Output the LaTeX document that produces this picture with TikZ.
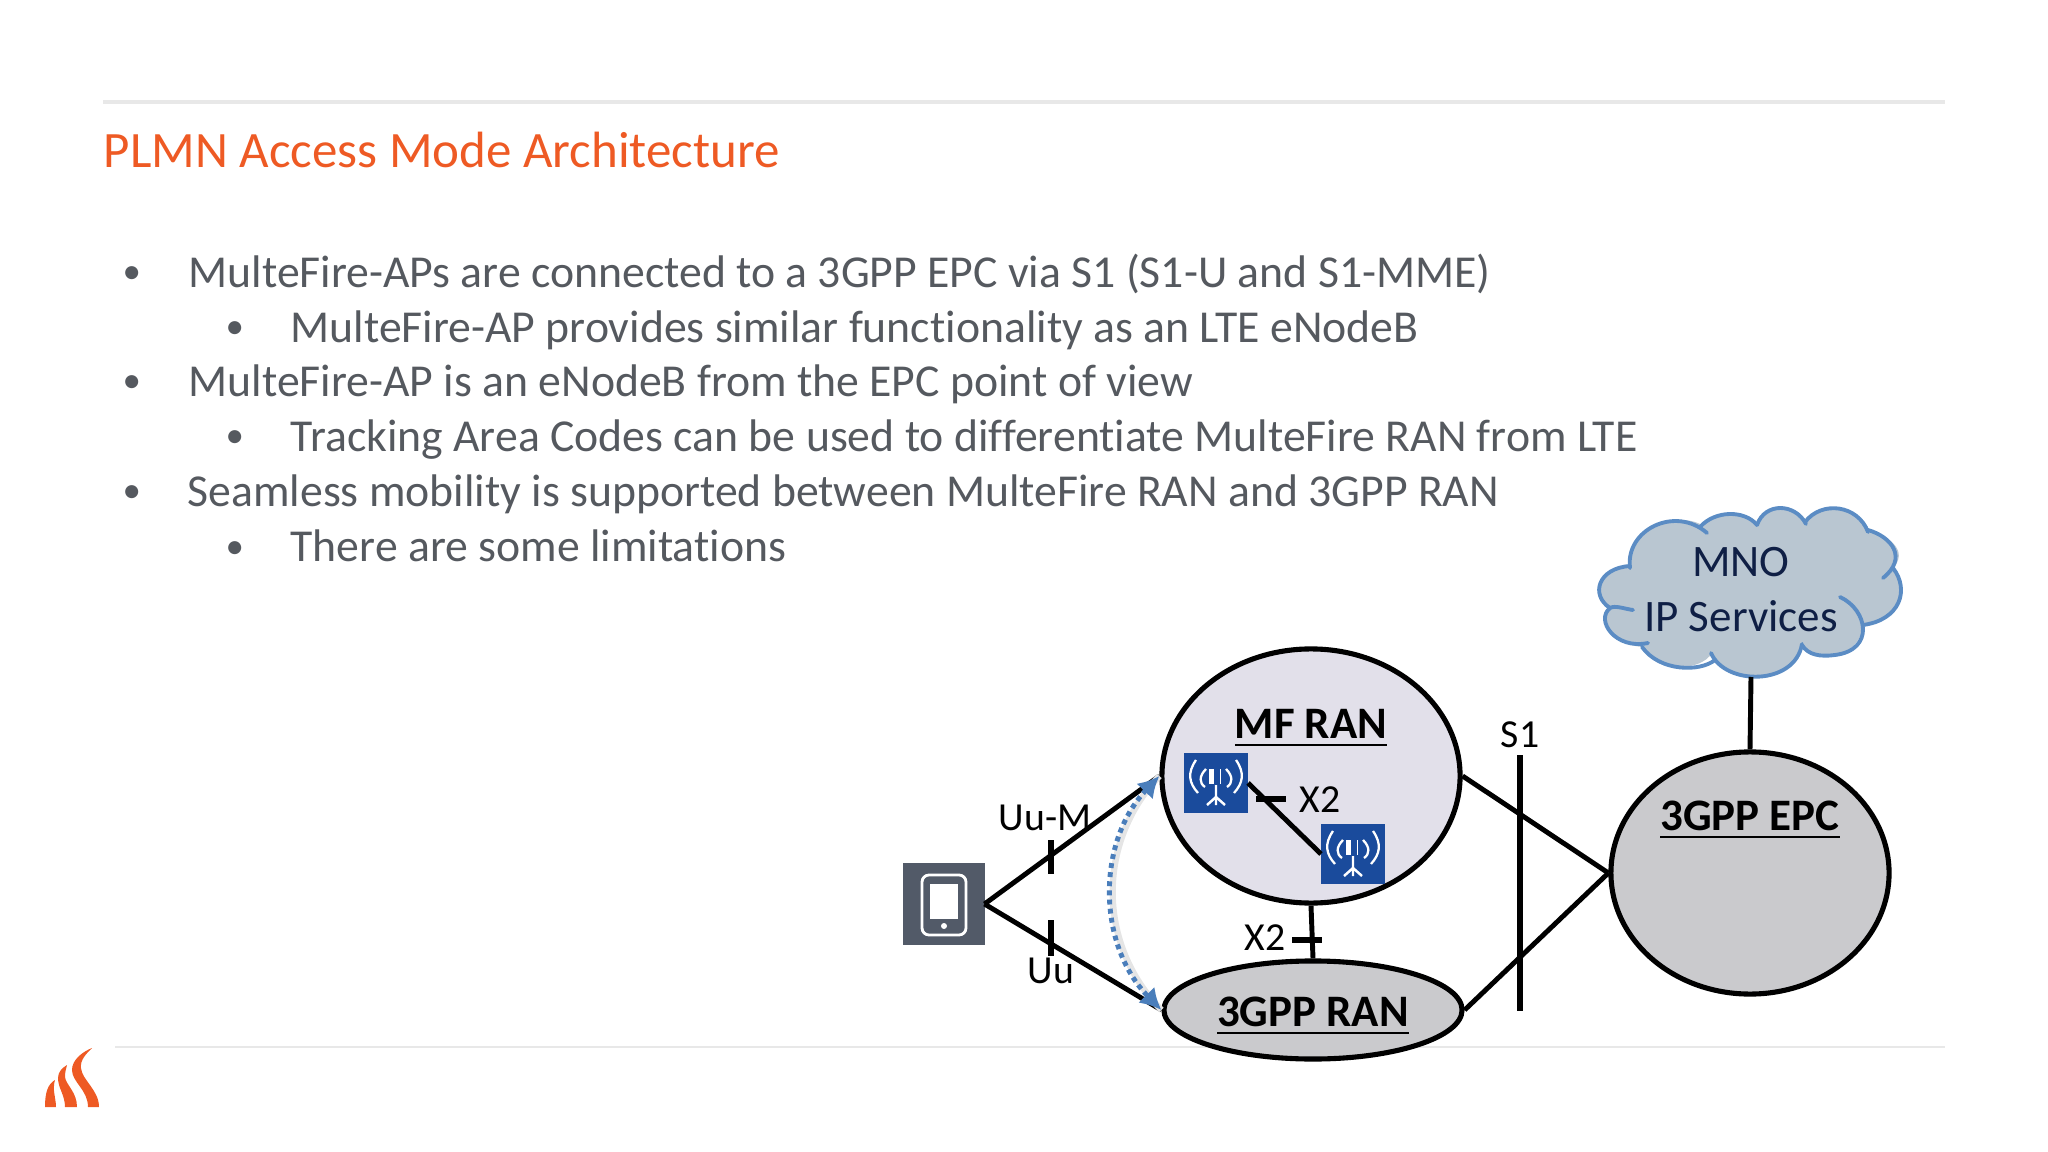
\documentclass[tikz,border=0pt]{standalone}
\usepackage{fontspec}
\setmainfont[Ligatures=NoCommon]{Carlito}
\usetikzlibrary{arrows.meta,positioning,shapes.geometric}

\definecolor{titleorange}{HTML}{EE5A24}
\definecolor{bodygray}{HTML}{55595F}
\definecolor{rulegray}{HTML}{E8E8E8}
\definecolor{phoneslate}{HTML}{525A68}
\definecolor{antblue}{HTML}{1A4B9C}
\definecolor{mffill}{HTML}{E2E0EA}
\definecolor{coregray}{HTML}{CACACD}
\definecolor{cloudfill}{HTML}{B9C6D1}
\definecolor{cloudline}{HTML}{5B8CC4}
\definecolor{cloudtext}{HTML}{0F1F45}
\definecolor{arcblue}{HTML}{4A7EBB}

% heading with a heavier underline
\newsavebox{\ranbox}
\newcommand{\ranhead}[1]{\sbox{\ranbox}{#1}\rlap{\smash{\raisebox{-2.2pt}{\rule{\wd\ranbox}{0.65pt}}}}\usebox{\ranbox}}

\tikzset{
    bullettext/.style={anchor=base west, inner sep=0pt, text=bodygray, font=\fontsize{13}{15}\selectfont},
    bulletdot/.style={anchor=base west, inner sep=0pt, text=bodygray, font=\fontsize{10.5}{12}\selectfont},
    diagtext/.style={inner sep=0pt, font=\fontsize{11.3}{13}\selectfont},
    cloudlabel/.style={inner sep=0pt, text=cloudtext, font=\fontsize{12.8}{15}\selectfont},
    rantitle/.style={inner sep=0pt, font=\fontsize{12.8}{15}\selectfont\bfseries},
    ranlobe/.style={draw, line width=1.45pt, shape=ellipse, inner sep=0pt},
    antbox/.style={fill=antblue, minimum width=0.64cm, minimum height=0.6cm, inner sep=0pt, outer sep=0pt},
    tickv/.style={fill=black, minimum width=1.5pt, inner sep=0pt, outer sep=0pt},
    tickh/.style={fill=black, minimum height=1.6pt, inner sep=0pt, outer sep=0pt},
    wire/.style={line width=1.4pt},
    cloudedge/.style={cloudline, line width=1.1pt, line cap=round},
    antenna/.pic={
        \draw[white, line width=0.65pt] (-20,-23) .. controls (-29,-10) and (-27,0) .. (-18,10);
        \draw[white, line width=0.65pt] (20,-23) .. controls (29,-10) and (27,0) .. (18,10);
        \draw[white, line width=0.65pt] (-10,-14) .. controls (-17,-7) and (-17,0) .. (-11,4);
        \draw[white, line width=0.65pt] (10,-14) .. controls (17,-7) and (17,0) .. (11,4);
        \fill[white] (-7,-14) rectangle (-2,1);
        \fill[white] (4,-14) rectangle (5.2,1);
        \draw[white, line width=0.7pt] (0,2) -- (0,14) -- (-9,22) (0,14) -- (9,22) (0,14) -- (0,22);
    },
}

\begin{document}
\begin{tikzpicture}[
    >=Latex,
    x=0.01cm, y=-0.01cm, % coordinates are pixels of the slide
]
    \useasboundingbox (0,0) rectangle (2048,1152);

    % --- Slide frame ---
    \draw[rulegray, line width=1.3pt] (103,102) -- (1945,102);
    \draw[rulegray, line width=0.5pt] (115,1047) -- (1945,1047);
    \node[anchor=base west, inner sep=0pt, text=titleorange, font=\fontsize{14.5}{17}\selectfont] (title) at (103,168) {PLMN Access Mode Architecture};

    % logo
    \fill[titleorange] (92,1048) .. controls (82,1052) and (72,1060) .. (72,1070) .. controls (72,1082) and (88,1090) .. (88,1107) -- (99,1107) .. controls (99,1090) and (82,1080) .. (81,1068) .. controls (80,1060) and (86,1054) .. (92,1048) -- cycle;
    \fill[titleorange] (67,1065) .. controls (62,1068) and (58,1072) .. (58,1078) .. controls (58,1088) and (65,1095) .. (65,1107) -- (77,1107) .. controls (77,1092) and (66,1085) .. (65,1077) .. controls (65,1072) and (66,1069) .. (67,1065) -- cycle;
    \fill[titleorange] (55,1080) .. controls (48,1084) and (45,1092) .. (45,1107) -- (56,1107) .. controls (56,1098) and (52,1090) .. (55,1080) -- cycle;

    % --- Bullets ---
    \node[bulletdot] (dotA) at (122,284) {•};
    \node[bullettext] (lineA) at (188,288) {MulteFire-APs are connected to a 3GPP EPC via S1 (S1-U and S1-MME)};
    \node[bulletdot] (dotB) at (225,339) {•};
    \node[bullettext] (lineB) at (290,343) {MulteFire-AP provides similar functionality as an LTE eNodeB};
    \node[bulletdot] (dotC) at (122,393) {•};
    \node[bullettext] (lineC) at (188,397) {MulteFire-AP is an eNodeB from the EPC point of view};
    \node[bulletdot] (dotD) at (225,448) {•};
    \node[bullettext] (lineD) at (290,452) {Tracking Area Codes can be used to differentiate MulteFire RAN from LTE};
    \node[bulletdot] (dotE) at (122,503) {•};
    \node[bullettext] (lineE) at (187,507) {Seamless mobility is supported between MulteFire RAN and 3GPP RAN};
    \node[bulletdot] (dotF) at (225,558) {•};
    \node[bullettext] (lineF) at (290,561) {There are some limitations};

    % --- Cloud ---
    \fill[cloudfill] (1630,566) .. controls (1625,530) and (1675,510) .. (1702,525)
        .. controls (1715,510) and (1745,510) .. (1757,523)
        .. controls (1765,502) and (1795,503) .. (1805,522)
        .. controls (1822,500) and (1858,505) .. (1868,530)
        .. controls (1892,537) and (1908,552) .. (1893,568)
        .. controls (1910,590) and (1900,620) .. (1863,625)
        .. controls (1860,660) and (1815,662) .. (1802,645)
        .. controls (1795,686) and (1725,686) .. (1712,653)
        .. controls (1700,672) and (1660,672) .. (1642,647)
        .. controls (1615,645) and (1595,620) .. (1610,608)
        .. controls (1590,595) and (1598,568) .. (1630,566) -- cycle;
    \draw[cloudedge] (1630,568) .. controls (1625,530) and (1675,505) .. (1707,533);
    \draw[cloudedge] (1700,527) .. controls (1715,510) and (1745,510) .. (1757,525);
    \draw[cloudedge] (1757,525) .. controls (1765,502) and (1795,503) .. (1806,524);
    \draw[cloudedge] (1805,522) .. controls (1822,500) and (1858,505) .. (1868,532);
    \draw[cloudedge] (1868,530) .. controls (1892,537) and (1908,558) .. (1883,578);
    \draw[cloudedge] (1893,568) .. controls (1910,590) and (1900,620) .. (1863,625);
    \draw[cloudedge] (1840,597) .. controls (1868,610) and (1875,650) .. (1835,655) .. controls (1820,657) and (1808,655) .. (1802,645);
    \draw[cloudedge] (1802,644) .. controls (1795,686) and (1725,686) .. (1711,653);
    \draw[cloudedge] (1715,660) .. controls (1700,672) and (1660,672) .. (1642,647);
    \draw[cloudedge] (1648,643) .. controls (1615,650) and (1595,620) .. (1610,608) .. controls (1615,605) and (1625,609) .. (1633,610);
    \draw[cloudedge] (1610,608) .. controls (1590,595) and (1598,568) .. (1630,566);
    \node[cloudlabel] (mno) at (1741,562) {MNO};
    \node[cloudlabel] (ipserv) at (1741,616) {IP Services};
    \coordinate (cloudfoot) at (1751,677);

    % --- RAN and core ---
    \node[ranlobe, fill=mffill, minimum width=2.98cm, minimum height=2.54cm] (mfran) at (1311,776) {};
    \node[ranlobe, fill=coregray, minimum width=2.98cm, minimum height=0.98cm] (gppran) at (1313,1010) {};
    \node[ranlobe, fill=coregray, minimum width=2.78cm, minimum height=2.42cm] (epc) at (1750,873) {};
    \node[rantitle] (mftitle) at (1311,724) {\ranhead{MF RAN}};
    \node[rantitle] (rantitle) at (1313,1012) {\ranhead{3GPP RAN}};
    \node[rantitle] (epctitle) at (1750,816) {\ranhead{3GPP EPC}};

    % --- Access points ---
    \node[antbox] (apA) at (1216,783) {};
    \node[antbox] (apB) at (1353,854) {};
    \pic at (apA.center) {antenna};
    \pic at (apB.center) {antenna};

    % --- Phone ---
    \node[fill=phoneslate, minimum width=0.81cm, minimum height=0.81cm, inner sep=0pt, outer sep=0pt] (phone) at (944,904) {};
    \draw[white, line width=0.8pt, rounded corners=2pt] (922,875) rectangle (966,935);
    \fill[white] (930,884) rectangle (958,919);
    \fill[white] (944,926) circle (3);

    % --- Connectors ---
    \draw[wire] (phone.east) -- (mfran.west);
    \draw[wire] (phone.east) -- (gppran.west);
    \draw[wire] (mfran.east) -- (epc.west);
    \draw[wire] (gppran.east) -- (epc.west);
    \draw[wire] (mfran.south) -- (gppran.north);
    \draw[wire] (apA.east) -- (apB.west);
    \draw[wire] (cloudfoot) -- (epc.north);

    % reference points crossing the links
    \node[tickv, minimum height=0.34cm] (tickUm) at (1051,857) {};
    \node[tickv, minimum height=0.35cm] (tickU) at (1051,938) {};
    \node[tickv, minimum height=2.55cm] (tickS) at (1520,883) {};
    \node[tickh, minimum width=0.3cm] (tickXa) at (1271,799) {};
    \node[tickh, minimum width=0.3cm] (tickXb) at (1307,940) {};

    % mobility between the two RANs
    \draw[arcblue, line width=1.4pt, dash pattern=on 1.4pt off 1.2pt, {Latex[length=6pt,width=6.5pt]}-{Latex[length=6pt,width=6.5pt]},
        preaction={draw=black!10, line width=1.8pt, solid, arrows=-}]
        (mfran.west) to[bend right=44] (gppran.west);

    % --- Labels ---
    \node[diagtext] (uumlabel) at (1045,818) {Uu-M};
    \node[diagtext] (uulabel) at (1051,971) {Uu};
    \node[diagtext] (xalabel) at (1320,800) {X2};
    \node[diagtext] (xblabel) at (1265,938) {X2};
    \node[diagtext] (sonelabel) at (1520,735) {S1};
\end{tikzpicture}
\end{document}
